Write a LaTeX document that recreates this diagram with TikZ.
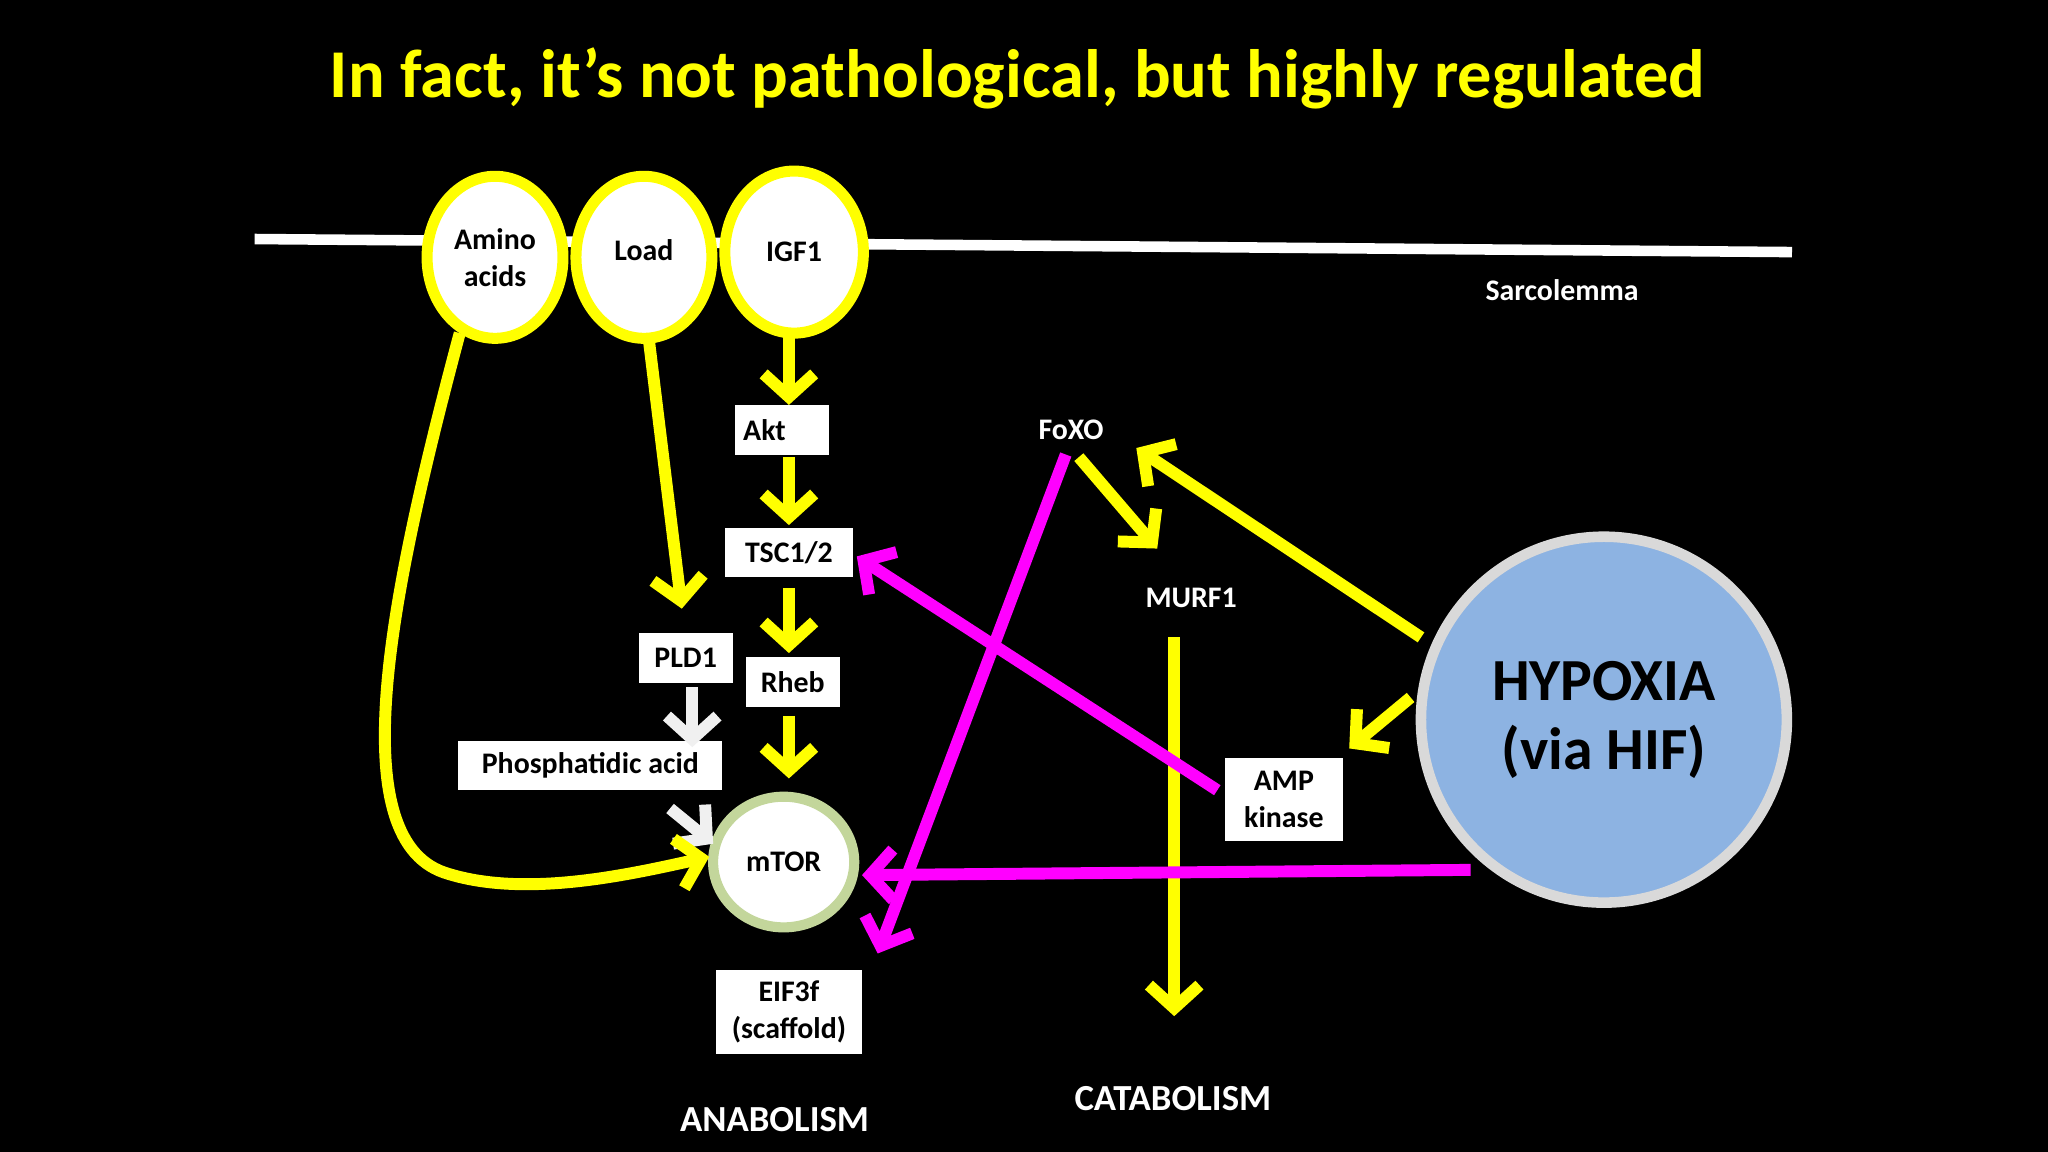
\documentclass[tikz,border=0pt]{standalone}
\usepackage{fontspec}
\setmainfont{Carlito}
\usetikzlibrary{arrows.meta,shapes.geometric}
\definecolor{ttl}{HTML}{FFFF00}
\definecolor{mag}{HTML}{FF00FF}
\definecolor{hyp}{HTML}{8DB3E2}
\definecolor{mtorc}{HTML}{C3D69B}
\definecolor{hypb}{HTML}{D9D9D9}
\begin{document}
\begin{tikzpicture}[x=0.01cm,y=-0.01cm,
  box/.style={fill=white,draw=none,font=\bfseries\fontsize{6.5}{8}\selectfont,inner sep=0pt,align=center},
  circ/.style={ellipse,draw=ttl,line width=2.4pt,fill=white,font=\bfseries\fontsize{6.5}{8}\selectfont,align=center,inner sep=0pt},
  lbl/.style={text=white,font=\bfseries\fontsize{6.5}{8}\selectfont},
  yarr/.style={draw=ttl,line width=2.6pt,-{Straight Barb[length=5pt,width=11pt]}},
  garr/.style={draw=white!88!gray,line width=2.6pt,-{Straight Barb[length=5pt,width=11pt]}},
  marr/.style={draw=mag,line width=2.6pt,-{Straight Barb[length=5pt,width=11pt]}}]
\fill[black] (0,0) rectangle (1568,882);
\useasboundingbox (0,0) rectangle (1568,882);
\node[text=ttl,font=\bfseries\fontsize{14.9}{16}\selectfont] (title) at (779,60) {In fact, it’s not pathological, but highly regulated};
\draw[white,line width=2.3pt] (195,183) -- (1372,193);
\node[lbl] (sarc) at (1196,222) {Sarcolemma};
\node[circ,minimum width=1.04cm,minimum height=1.24cm] (aa) at (379,197) {Amino\\acids};
\node[circ,minimum width=1.04cm,minimum height=1.24cm,text depth=3pt] (load) at (493,197) {Load};
\node[circ,minimum width=1.06cm,minimum height=1.24cm] (igf) at (608,193) {IGF1};
\node[box,minimum width=0.72cm,minimum height=0.38cm,text width=0.6cm,align=left] (akt) at (599,329) {Akt};
\node[box,minimum width=0.98cm,minimum height=0.38cm] (tsc) at (604,423) {TSC1/2};
\node[box,minimum width=0.72cm,minimum height=0.38cm] (rheb) at (607,522) {Rheb};
\node[box,minimum width=0.72cm,minimum height=0.38cm] (pld) at (525,504) {PLD1};
\node[box,minimum width=2.02cm,minimum height=0.38cm] (pa) at (452,586) {Phosphatidic acid};
\node[ellipse,draw=mtorc,line width=2.2pt,fill=white,minimum width=1.08cm,minimum height=1.0cm,inner sep=0pt,font=\bfseries\fontsize{6.5}{8}\selectfont] (mtor) at (600,660) {mTOR};
\node[box,minimum width=1.12cm,minimum height=0.64cm] (eif) at (604,775) {EIF3f\\(scaffold)};
\node[box,minimum width=0.9cm,minimum height=0.64cm] (amp) at (983,612) {AMP\\kinase};
\node[lbl] (foxo) at (820,329) {FoXO};
\node[lbl] (murf) at (912,458) {MURF1};
\node[circle,draw=hypb,fill=hyp,line width=2.3pt,minimum size=2.8cm,inner sep=0pt,align=center,font=\bfseries\fontsize{13}{15}\selectfont] (hyp) at (1228,551) {HYPOXIA\\(via HIF)};
\node[lbl,font=\bfseries\fontsize{8}{9}\selectfont] (ana) at (593,857) {ANABOLISM};
\node[lbl,font=\bfseries\fontsize{8}{9}\selectfont] (cata) at (898,841) {CATABOLISM};
% coordinates
\coordinate (c1) at (604,258); \coordinate (c2) at (604,310);
\coordinate (c3) at (604,350); \coordinate (c4) at (604,402);
\coordinate (c5) at (604,450); \coordinate (c6) at (604,500);
\coordinate (c7) at (604,548); \coordinate (c8) at (604,596);
\coordinate (l1) at (497,262); \coordinate (l2) at (522,466);
\coordinate (p1) at (530,526); \coordinate (p2) at (530,572);
\coordinate (p3) at (513,619); \coordinate (p4) at (546,646);
\coordinate (a1) at (352,255); \coordinate (a2) at (543,656);
\coordinate (f1) at (826,350); \coordinate (f2) at (886,420);
\coordinate (h1) at (1088,488); \coordinate (h2) at (870,343);
\coordinate (h3) at (1080,534); \coordinate (h4) at (1033,573);
\coordinate (k1) at (899,488); \coordinate (k2) at (899,778);
\coordinate (m1) at (932,605); \coordinate (m2) at (656,426);
\coordinate (m3) at (1126,666); \coordinate (m4) at (660,670);
\coordinate (m5) at (816,348); \coordinate (m6) at (672,730);
\draw[yarr] (c1) -- (c2);
\draw[yarr] (c3) -- (c4);
\draw[yarr] (c5) -- (c6);
\draw[yarr] (c7) -- (c8);
\draw[yarr] (l1) -- (l2);
\draw[garr] (p1) -- (p2);
\draw[garr] (p3) -- (p4);
\draw[yarr] (a1) .. controls (300,450) and (260,640) .. (340,668) .. controls (400,688) and (480,670) .. (a2);
\draw[yarr] (f1) -- (f2);
\draw[yarr] (h1) -- (h2);
\draw[yarr] (h3) -- (h4);
\draw[yarr] (k1) -- (k2);
\draw[marr] (m1) -- (m2);
\draw[marr] (m3) -- (m4);
\draw[marr] (m5) -- (m6);
\end{tikzpicture}
\end{document}
